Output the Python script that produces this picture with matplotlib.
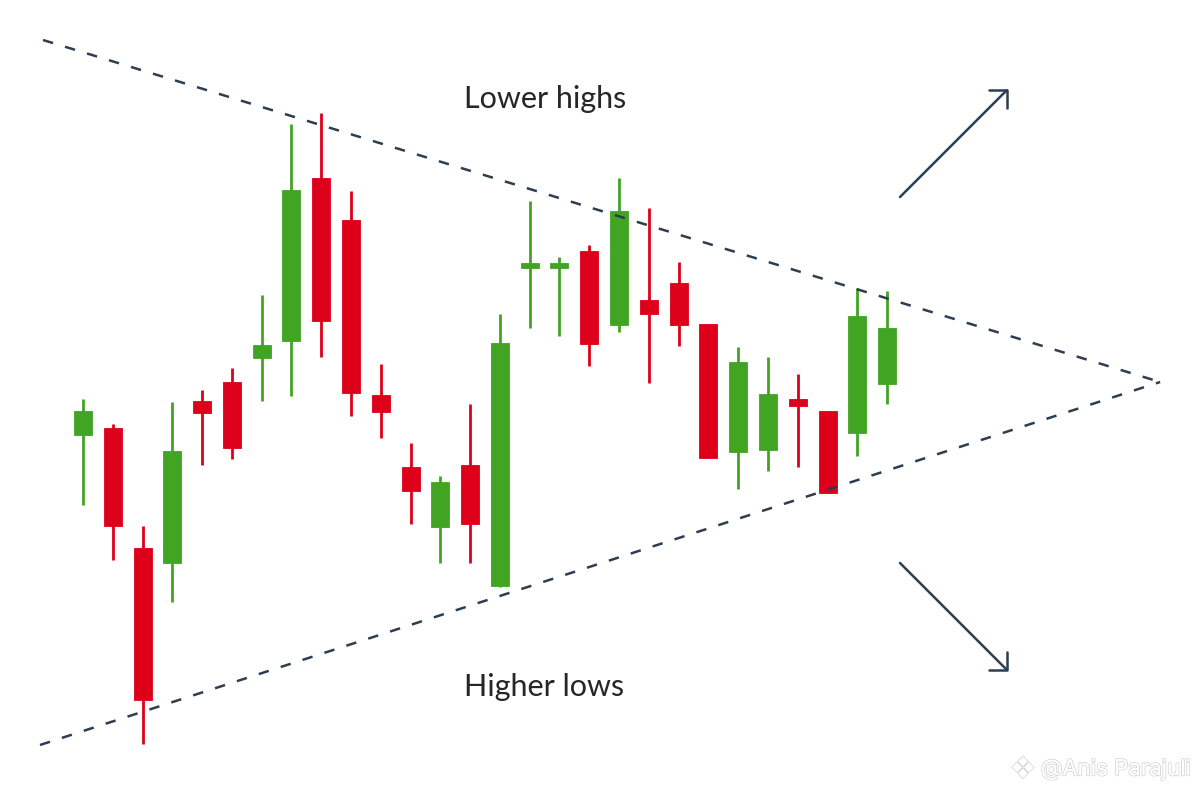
import matplotlib
matplotlib.use("Agg")
import matplotlib.pyplot as plt
import matplotlib.patheffects as pe
import numpy as np

# ---- data (price units) ----
opens  = [359, 366, 246, 231, 393, 412, 436, 453, 616, 574, 399, 327, 267, 329,
          208, 526, 526, 543, 469, 494, 511, 470, 342, 344, 395, 383, 361, 410]
closes = [383, 268, 94, 343, 381, 346, 449, 604, 473, 401, 382, 303, 312, 270,
          451, 531, 531, 450, 583, 480, 469, 336, 432, 400, 388, 301, 478, 466]
highs  = [395, 370, 268, 392, 404, 426, 499, 670, 681, 603, 430, 351, 318, 390,
          480, 593, 537, 549, 616, 586, 532, 470, 447, 437, 420, 383, 506, 503]
lows   = [289, 234, 50, 192, 329, 335, 393, 398, 437, 378, 356, 270, 231, 231,
          207, 466, 458, 428, 462, 411, 448, 336, 305, 323, 327, 301, 338, 390]

# trend lines (index, price) anchors
upper_x = [-1.343, 36.17]
upper_y = [754, 412]
lower_x = [-1.444, 36.17]
lower_y = [49, 412]

labels = ["Lower highs", "Higher lows"]

GREEN = "#41a523"
RED = "#de001a"
LINE = "#2c3e50"

W, H = 1200, 794
fig = plt.figure(figsize=(W / 100, H / 100), dpi=100)
ax = fig.add_axes([0, 0, 1, 1])
step = 29.78
x0 = 83
ax.set_xlim((0 - x0) / step, (W - x0) / step)
ax.set_ylim(0, H)
ax.axis("off")

body_w = 18 / step

for i, (o, c, h, l) in enumerate(zip(opens, closes, highs, lows)):
    col = GREEN if c >= o else RED
    ax.plot([i, i], [l, h], color=col, lw=2.0, solid_capstyle="butt", zorder=2)
    bottom = min(o, c)
    height = max(abs(c - o), 1)
    ax.add_patch(plt.Rectangle((i - body_w / 2, bottom), body_w, height,
                               facecolor=col, edgecolor=col, lw=0.6, zorder=3))

ax.plot(upper_x, upper_y, color=LINE, lw=1.8, dashes=(4.2, 5.0), zorder=4)
ax.plot(lower_x, lower_y, color=LINE, lw=1.8, dashes=(4.2, 5.0), zorder=4)

def px(x, y):
    return ((x - x0) / step, H - y)

arrowprops = dict(arrowstyle="->,head_length=0.92,head_width=0.92",
                  color=LINE, lw=1.8, shrinkA=0, shrinkB=0, mutation_scale=10)
ax.annotate("", xy=px(1008, 89), xytext=px(900, 197), arrowprops=arrowprops)
ax.annotate("", xy=px(1008, 671), xytext=px(900, 563), arrowprops=arrowprops)

ax.text(*px(545, 108), labels[0], fontsize=22, family="Lato", weight="normal",
        color="#262626", ha="center", va="baseline")
ax.text(*px(544, 696), labels[1], fontsize=22, family="Lato", weight="normal",
        color="#262626", ha="center", va="baseline")

wm = ax.text(*px(1192, 768), "❖ @Anis Parajuli", fontsize=16,
             family=["Inter", "DejaVu Sans"], color="white",
             ha="right", va="center", zorder=5)
wm.set_path_effects([pe.withStroke(linewidth=1.2, foreground="#d0d0d0"), pe.Normal()])

fig.savefig("out.png", dpi=100, facecolor="white")
